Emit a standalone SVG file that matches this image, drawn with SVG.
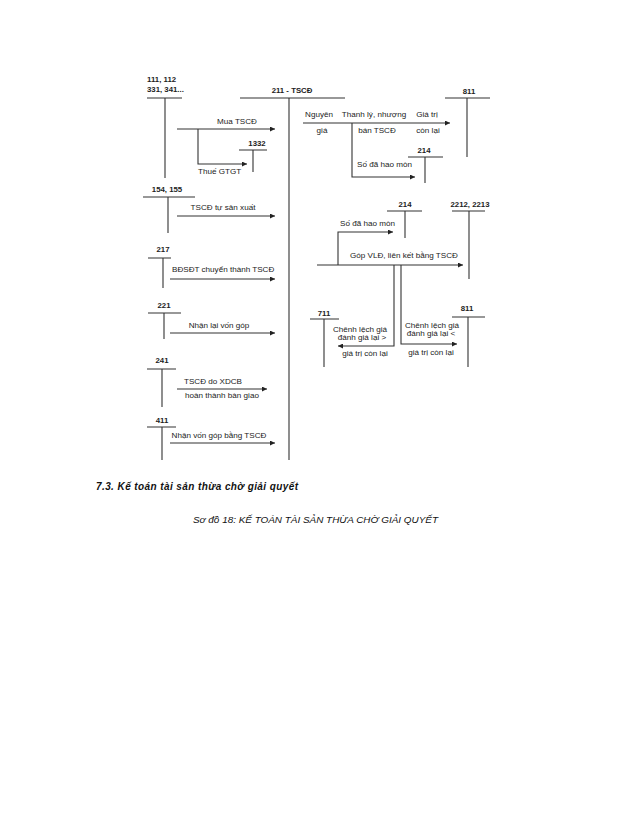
<svg xmlns="http://www.w3.org/2000/svg" width="638" height="826" viewBox="0 0 638 826">
<defs>
<marker id="ah" viewBox="0 0 10 10" refX="10" refY="5" markerWidth="6" markerHeight="5" markerUnits="userSpaceOnUse" orient="auto">
<path d="M0,0 L10,5 L0,10 z" fill="#222"/>
</marker>
</defs>
<style>
.ln{stroke:#333;stroke-width:1.1;fill:none}
.ar{stroke:#333;stroke-width:1.1;fill:none;marker-end:url(#ah)}
.acc{font-family:"Liberation Sans",Arial,sans-serif;font-size:7.8px;font-weight:bold;fill:#222}
.lb{font-family:"Liberation Sans",Arial,sans-serif;font-size:8.1px;fill:#222}
.m{text-anchor:middle}
</style>
<rect width="638" height="826" fill="#fff"/>
<g id="acc111"><text class="acc" x="147" y="82">111, 112</text><text class="acc" x="147" y="92">331, 341...</text><path class="ln" d="M147,98H182M165,98V178"/></g>
<g id="acc211"><text class="acc m" x="292" y="93">211 - TSCĐ</text><path class="ln" d="M240,98H345M289,98V460"/></g>
<g id="acc1332"><text class="acc m" x="257" y="146">1332</text><path class="ln" d="M239,150H267M253,150V172"/></g>
<g id="acc811a"><text class="acc m" x="469" y="94">811</text><path class="ln" d="M445,98H490M467,98V157"/></g>
<g id="acc214a"><text class="acc m" x="424" y="153">214</text><path class="ln" d="M408,157H443M425,157V183"/></g>
<g id="acc154"><text class="acc m" x="167" y="192">154, 155</text><path class="ln" d="M143,197H195M168,197V233"/></g>
<g id="acc217"><text class="acc m" x="163" y="252">217</text><path class="ln" d="M148,258H171M163,258V288"/></g>
<g id="acc221"><text class="acc m" x="164" y="308">221</text><path class="ln" d="M148,313H181M164,313V339"/></g>
<g id="acc241"><text class="acc m" x="162" y="363">241</text><path class="ln" d="M147,369H176M162,369V407"/></g>
<g id="acc411"><text class="acc m" x="162" y="423">411</text><path class="ln" d="M147,427H176M162,427V460"/></g>
<g id="acc214b"><text class="acc m" x="405" y="207">214</text><path class="ln" d="M387,211H422M405,211V238"/></g>
<g id="acc2212"><text class="acc m" x="470" y="207">2212, 2213</text><path class="ln" d="M452,211H485M469,211V279"/></g>
<g id="acc711"><text class="acc m" x="324" y="316">711</text><path class="ln" d="M310,319H339M324,319V367"/></g>
<g id="acc811b"><text class="acc m" x="467" y="311">811</text><path class="ln" d="M452,317H485M468,317V367"/></g>
<g id="connectors">
<path class="ar" d="M177,129H275"/>
<path class="ar" d="M198,129V164H247"/>
<path class="ar" d="M177,216H275"/>
<path class="ar" d="M170,279H275"/>
<path class="ar" d="M170,333H275"/>
<path class="ar" d="M177,389H267"/>
<path class="ar" d="M170,443H275"/>
<path class="ar" d="M303,123H450"/>
<path class="ar" d="M352,123V177H415"/>
<path class="ar" d="M317,265H463"/>
<path class="ar" d="M338,265V232H393"/>
<path class="ar" d="M394,265V346H338"/>
<path class="ar" d="M401,265V344H457"/>
</g>
<g id="labels">
<text class="lb m" x="237" y="124">Mua TSCĐ</text>
<text class="lb" x="198" y="174">Thuế GTGT</text>
<text class="lb m" x="223" y="210">TSCĐ tự sản xuất</text>
<text class="lb" x="172" y="272">BĐSĐT chuyển thành TSCĐ</text>
<text class="lb m" x="219" y="328">Nhận lại vốn góp</text>
<text class="lb m" x="213" y="384">TSCĐ do XDCB</text>
<text class="lb m" x="222" y="398">hoàn thành bàn giao</text>
<text class="lb m" x="219" y="438">Nhận vốn góp bằng TSCĐ</text>
<text class="lb m" x="319" y="117">Nguyên</text>
<text class="lb m" x="374" y="117">Thanh lý, nhượng</text>
<text class="lb m" x="427" y="117">Giá trị</text>
<text class="lb m" x="322" y="133">giá</text>
<text class="lb m" x="377" y="133">bán TSCĐ</text>
<text class="lb m" x="428" y="133">còn lại</text>
<text class="lb" x="357" y="167">Số đã hao mòn</text>
<text class="lb" x="340" y="226">Số đã hao mòn</text>
<text class="lb" x="350" y="258">Góp VLĐ, liên kết bằng TSCĐ</text>
<text class="lb m" x="360" y="332">Chênh lệch giá</text>
<text class="lb m" x="362" y="340">đánh giá lại &gt;</text>
<text class="lb m" x="365" y="356">giá trị còn lại</text>
<text class="lb m" x="432" y="328">Chênh lệch giá</text>
<text class="lb m" x="431" y="336">đánh giá lại &lt;</text>
<text class="lb m" x="431" y="355">giá trị còn lại</text>
</g>
<text x="96" y="490" font-family="'Liberation Sans',Arial,sans-serif" font-size="10" font-weight="bold" font-style="italic" fill="#111" textLength="202" lengthAdjust="spacing">7.3. Kế toán tài sản thừa chờ giải quyết</text>
<text x="193" y="523" font-family="'Liberation Sans',Arial,sans-serif" font-size="9.5" font-style="italic" fill="#111" textLength="245" lengthAdjust="spacingAndGlyphs">Sơ đồ 18: KẾ TOÁN TÀI SẢN THỪA CHỜ GIẢI QUYẾT</text>
</svg>
